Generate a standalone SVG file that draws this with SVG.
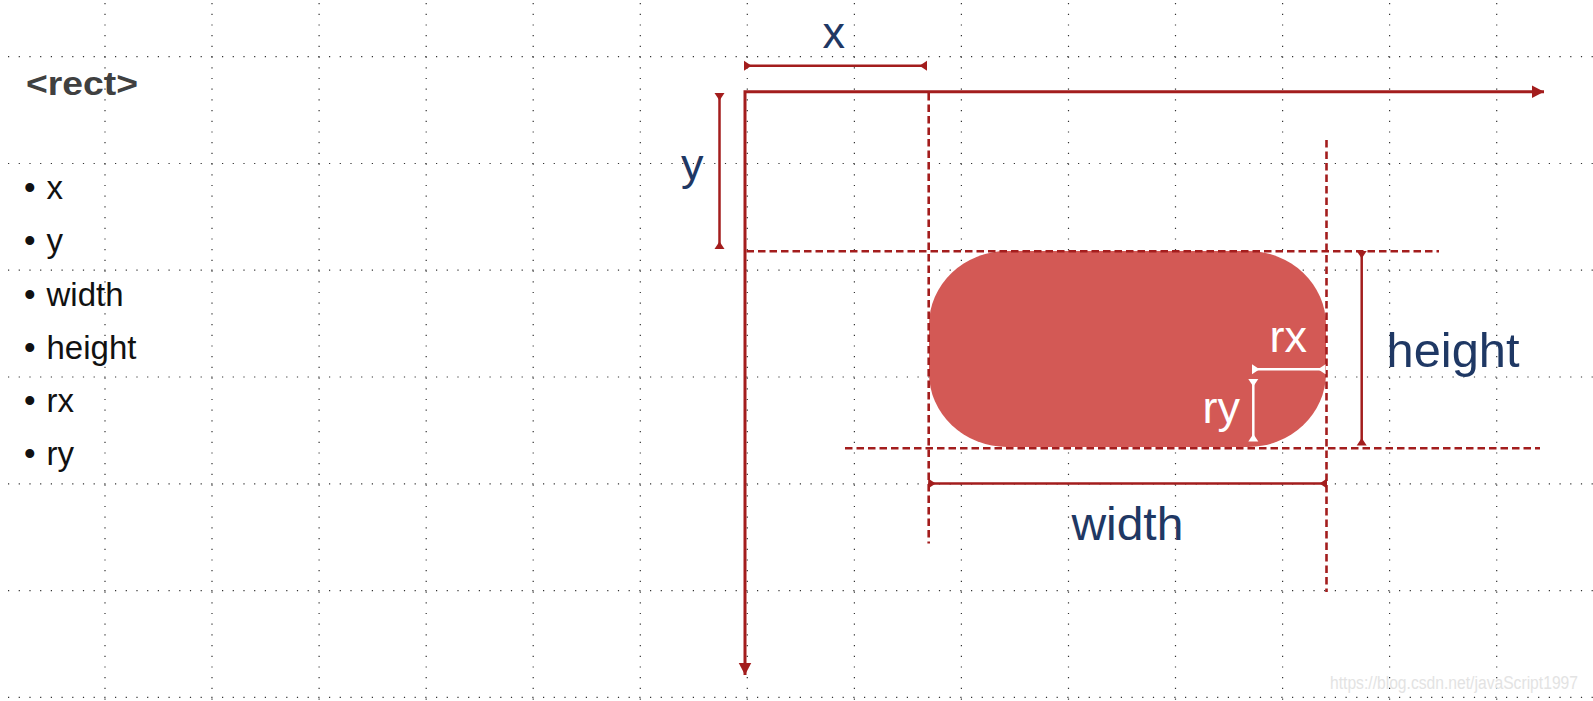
<svg xmlns="http://www.w3.org/2000/svg" width="1593" height="701" viewBox="0 0 1593 701">
  <defs>
    <style>
      .grid line { stroke: #333; stroke-width: 1.2; stroke-dasharray: 1.2 9.5; }
      .axis { fill: none; stroke: #a31d1d; stroke-width: 3; }
      .dim { fill: none; stroke: #a31d1d; stroke-width: 2.5; }
      .dimw { fill: none; stroke: #ffffff; stroke-width: 2.5; }
      .guide { fill: none; stroke: #a31d1d; stroke-width: 2.6; stroke-dasharray: 7.5 4; }
      .lbl { font-family: "Liberation Sans", Arial, sans-serif; fill: #1f3864; }
      .lblw { font-family: "Liberation Sans", Arial, sans-serif; fill: #ffffff; }
      .list { font-family: "Liberation Sans", Arial, sans-serif; font-size: 33px; fill: #111111; }
    </style>
    <marker id="arrow" markerUnits="userSpaceOnUse" viewBox="0 0 13 14" refX="12.5" refY="7" markerWidth="13" markerHeight="14" orient="auto-start-reverse">
      <path d="M0,0.5 L12.5,7 L0,13.5 z" fill="#a31d1d"/>
    </marker>
    <marker id="tick" markerUnits="userSpaceOnUse" viewBox="-8 -6 9 12" refX="0" refY="0" markerWidth="9" markerHeight="12" orient="auto-start-reverse">
      <path d="M0.5,-5 L0.5,5 L-7,0 z" fill="#a31d1d"/>
    </marker>
    <marker id="tickw" markerUnits="userSpaceOnUse" viewBox="-8 -6 9 12" refX="0" refY="0" markerWidth="9" markerHeight="12" orient="auto-start-reverse">
      <path d="M0.5,-5 L0.5,5 L-7,0 z" fill="#ffffff"/>
    </marker>
  </defs>

  <rect x="0" y="0" width="1593" height="701" fill="#ffffff"/>

  <g id="grid" class="grid">
    <line x1="8" y1="56.7" x2="1593" y2="56.7"/>
    <line x1="8" y1="163.5" x2="1593" y2="163.5"/>
    <line x1="8" y1="270.2" x2="1593" y2="270.2"/>
    <line x1="8" y1="377" x2="1593" y2="377"/>
    <line x1="8" y1="483.8" x2="1593" y2="483.8"/>
    <line x1="8" y1="590.6" x2="1593" y2="590.6"/>
    <line x1="8" y1="697.4" x2="1593" y2="697.4"/>
    <line x1="105" y1="3" x2="105" y2="701"/>
    <line x1="212" y1="3" x2="212" y2="701"/>
    <line x1="319.1" y1="3" x2="319.1" y2="701"/>
    <line x1="426.2" y1="3" x2="426.2" y2="701"/>
    <line x1="533.2" y1="3" x2="533.2" y2="701"/>
    <line x1="640.3" y1="3" x2="640.3" y2="701"/>
    <line x1="747.3" y1="3" x2="747.3" y2="701"/>
    <line x1="854.4" y1="3" x2="854.4" y2="701"/>
    <line x1="961.4" y1="3" x2="961.4" y2="701"/>
    <line x1="1068.5" y1="3" x2="1068.5" y2="701"/>
    <line x1="1175.5" y1="3" x2="1175.5" y2="701"/>
    <line x1="1282.6" y1="3" x2="1282.6" y2="701"/>
    <line x1="1389.6" y1="3" x2="1389.6" y2="701"/>
    <line x1="1496.7" y1="3" x2="1496.7" y2="701"/>
  </g>

  <g id="list">
    <text class="list" x="26" y="95" font-weight="bold" font-size="34" textLength="112" lengthAdjust="spacingAndGlyphs" style="fill:#404040">&lt;rect&gt;</text>
    <text class="list" y="199"><tspan x="24">•</tspan><tspan x="46.5">x</tspan></text>
    <text class="list" y="252.3"><tspan x="24">•</tspan><tspan x="46.5">y</tspan></text>
    <text class="list" y="305.5"><tspan x="24">•</tspan><tspan x="46.5">width</tspan></text>
    <text class="list" y="358.6"><tspan x="24">•</tspan><tspan x="46.5">height</tspan></text>
    <text class="list" y="411.9"><tspan x="24">•</tspan><tspan x="46.5">rx</tspan></text>
    <text class="list" y="464.5"><tspan x="24">•</tspan><tspan x="46.5">ry</tspan></text>
  </g>

  <g id="rect-node">
    <rect x="929" y="251" width="397" height="196" rx="78" ry="74" fill="#d35955"/>
  </g>

  <g id="connectors">
    <path class="axis" d="M745,675 L745,91.7 L1544,91.7" marker-start="url(#arrow)" marker-end="url(#arrow)"/>
    <line class="guide" x1="928.7" y1="93" x2="928.7" y2="543.5"/>
    <line class="guide" x1="1326.5" y1="140" x2="1326.5" y2="592"/>
    <line class="guide" x1="746.5" y1="251.3" x2="1439" y2="251.3"/>
    <line class="guide" x1="845" y1="448.3" x2="1540" y2="448.3"/>
    <line class="dim" x1="744.5" y1="65.7" x2="926.5" y2="65.7" marker-start="url(#tick)" marker-end="url(#tick)"/>
    <line class="dim" x1="719.5" y1="93.5" x2="719.5" y2="248.5" marker-start="url(#tick)" marker-end="url(#tick)"/>
    <line class="dim" x1="1361.7" y1="251.5" x2="1361.7" y2="445" marker-start="url(#tick)" marker-end="url(#tick)"/>
    <line class="dim" x1="928.7" y1="483.5" x2="1326.5" y2="483.5" marker-start="url(#tick)" marker-end="url(#tick)"/>
    <line class="dimw" x1="1252.5" y1="369.3" x2="1325" y2="369.3" marker-start="url(#tickw)" marker-end="url(#tickw)"/>
    <line class="dimw" x1="1253.3" y1="379.5" x2="1253.3" y2="441" marker-start="url(#tickw)" marker-end="url(#tickw)"/>
  </g>

  <g id="labels">
    <text class="lbl" x="822.5" y="48" font-size="45">x</text>
    <text class="lbl" x="681" y="180" font-size="45">y</text>
    <text class="lbl" x="1386.5" y="366.7" font-size="48" textLength="133" lengthAdjust="spacingAndGlyphs">height</text>
    <text class="lbl" x="1071.4" y="540" font-size="47" textLength="112" lengthAdjust="spacingAndGlyphs">width</text>
    <text class="lblw" x="1269.5" y="351.7" font-size="45">rx</text>
    <text class="lblw" x="1202.5" y="422.7" font-size="45">ry</text>
  </g>

  <g id="watermark">
    <text x="1330" y="689" font-family="Liberation Sans, Arial, sans-serif" font-size="18" fill="#e3e3e3" textLength="248" lengthAdjust="spacingAndGlyphs">https://blog.csdn.net/javaScript1997</text>
  </g>
</svg>
